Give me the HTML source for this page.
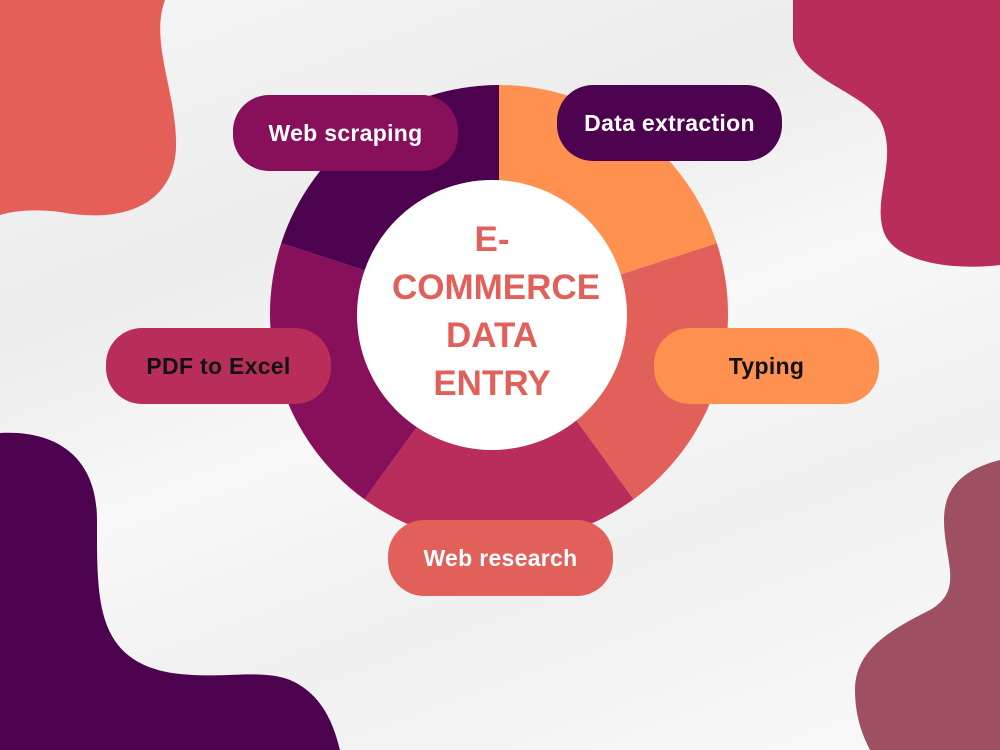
<!DOCTYPE html>
<html><head><style>
html,body{margin:0;padding:0}
body{width:1000px;height:750px;overflow:hidden;position:relative;background:linear-gradient(160deg,#f6f6f6 0%,#ececec 30%,#f8f8f8 50%,#f0f0f0 70%,#fafafa 100%);font-family:"Liberation Sans",sans-serif}
svg{position:absolute;left:0;top:0}
.pill{position:absolute;width:225px;height:76px;border-radius:36px;display:flex;align-items:center;justify-content:center;font-weight:bold;font-size:23px;letter-spacing:0.3px}
.ct{position:absolute;left:392px;width:200px;text-align:center;color:#e2605a;font-weight:bold;font-size:35px;line-height:48px;top:216px}
</style></head><body>
<svg width="1000" height="750" viewBox="0 0 1000 750">
<path d="M0 0 L165 0 C150 40 175 90 176 140 C178 200 130 225 60 212 C30 208 10 212 0 215 Z" fill="#e35f58"/>
<path d="M793 0 L1000 0 L1000 265 C960 270 900 265 885 235 C870 200 900 160 880 120 C860 90 800 80 793 40 Z" fill="#b82d5a"/>
<path d="M0 433 C60 430 97 460 97 520 C97 600 95 660 172 673 C220 680 260 668 290 680 C325 695 335 730 340 750 L0 750 Z" fill="#4d0250"/>
<path d="M1000 460 C960 470 944 490 944 520 C944 560 965 590 930 610 C890 630 855 650 855 690 C855 720 865 740 870 750 L1000 750 Z" fill="#9e4f62"/>
<g transform="translate(499,314)">
<path d="M0 0 L0 -229 A229 229 0 0 1 217.8 -70.8 Z" fill="#fe914f"/>
<path d="M0 0 L217.8 -70.8 A229 229 0 0 1 134.6 185.3 Z" fill="#e2605a"/>
<path d="M0 0 L134.6 185.3 A229 229 0 0 1 -134.6 185.3 Z" fill="#b92d5d"/>
<path d="M0 0 L-134.6 185.3 A229 229 0 0 1 -217.8 -70.8 Z" fill="#880f5a"/>
<path d="M0 0 L-217.8 -70.8 A229 229 0 0 1 0 -229 Z" fill="#4d0250"/>
</g>
<circle cx="492" cy="315" r="135" fill="#fff"/>
</svg>
<div class="ct">E-<br>COMMERCE<br>DATA<br>ENTRY</div>
<div class="pill" style="left:233px;top:95px;background:#880f5a;color:#fff">Web scraping</div>
<div class="pill" style="left:557px;top:85px;background:#4d0250;color:#fff">Data extraction</div>
<div class="pill" style="left:654px;top:328px;background:#fe914f;color:#111">Typing</div>
<div class="pill" style="left:106px;top:328px;background:#b82d5a;color:#111">PDF to Excel</div>
<div class="pill" style="left:388px;top:520px;background:#e2605a;color:#fff">Web research</div>
</body></html>
